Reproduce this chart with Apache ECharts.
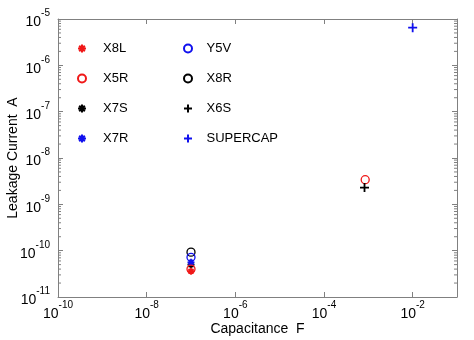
<!DOCTYPE html>
<html>
<head>
<meta charset="utf-8">
<script src="https://cdn.jsdelivr.net/npm/echarts@6/dist/echarts.min.js"></script>
<style>html,body{margin:0;padding:0;background:#fff}#c{width:474px;height:340px}</style>
</head>
<body>
<div id="c"></div>
<script>
// Capacitance (F) and leakage current (A) per dielectric type
var seriesNames = ['X8L', 'X5R', 'X7S', 'X7R', 'Y5V', 'X8R', 'X6S', 'SUPERCAP'];
var capX8L = [1e-7];         var curX8L = [3.6e-11];
var capX5R = [1e-7, 8.5e-4]; var curX5R = [4.0e-11, 3.4e-9];
var capX7S = [1e-7];         var curX7S = [5.0e-11];
var capX7R = [1e-7];         var curX7R = [5.6e-11];
var capY5V = [1e-7];         var curY5V = [7.2e-11];
var capX8R = [1e-7];         var curX8R = [9.3e-11];
var capX6S = [8.2e-4];       var curX6S = [2.3e-9];
var capSC  = [1e-2];         var curSC  = [6.5e-6];
var xTickExps = [-10, -8, -6, -4, -2];
var yTickExps = [-11, -10, -9, -8, -7, -6, -5];

var RED = '#f01818', BLUE = '#1010ee', BLACK = '#000000';
var FRAME = '#808080';
var FONT = 'Liberation Sans, Arial, sans-serif';

var ASTER = 'path://M5,0L5,10M0,5L10,5M1.5,1.5L8.5,8.5M1.5,8.5L8.5,1.5';
var PLUS = 'path://M5,0L5,10M0,5L10,5';

function pts(c, v) { return c.map(function (x, i) { return [Math.log10(x), Math.log10(v[i])]; }); }

function mk(name, c, v, sym, color, size) {
  var isCircle = sym === 'circle';
  return {
    name: name, type: 'scatter', data: pts(c, v),
    symbol: sym, symbolSize: size,
    itemStyle: { color: 'rgba(0,0,0,0)', borderColor: color, borderWidth: isCircle ? 1.3 : 1.8, opacity: 1 },
    emphasis: { disabled: true }, z: 3
  };
}

var supFmt = function (v) {
  var n = Math.round(v);
  return '{b|10}{s|' + n + '}';
};
var xFmt = function (v) {
  var n = Math.round(v);
  if (xTickExps.indexOf(n) < 0) return '';
  return '{b|10}{s|' + n + '}';
};
var rich = {
  b: { fontSize: 14, fontFamily: FONT, color: '#000', lineHeight: 21, verticalAlign: 'bottom' },
  s: { fontSize: 10, fontFamily: FONT, color: '#000', lineHeight: 21, verticalAlign: 'top' }
};

var minorTicks = {
  type: 'custom', silent: true, xAxisIndex: 0, yAxisIndex: 0, z: 1,
  data: [[0, 0]],
  renderItem: function (params, api) {
    var children = [];
    for (var n = yTickExps[0]; n < yTickExps[yTickExps.length - 1]; n++) {
      for (var k = 2; k <= 9; k++) {
        var e = n + Math.log10(k);
        var pl = api.coord([-10, e]);
        var pr = api.coord([-1, e]);
        children.push({ type: 'line', shape: { x1: pl[0], y1: pl[1], x2: pl[0] + 3, y2: pl[1] }, style: { stroke: FRAME, lineWidth: 1 } });
        children.push({ type: 'line', shape: { x1: pr[0], y1: pr[1], x2: pr[0] - 3, y2: pr[1] }, style: { stroke: FRAME, lineWidth: 1 } });
      }
    }
    return { type: 'group', children: children };
  }
};

var legendText = { fontSize: 13, fontFamily: FONT, color: '#000', lineHeight: 15 };

var option = {
  animation: false,
  backgroundColor: '#fff',
  grid: { left: 58, right: 17, top: 19, bottom: 43, outerBoundsMode: 'none', containLabel: false },
  legend: [
    { data: ['X8L', 'X5R', 'X7S', 'X7R'], orient: 'vertical', left: 72, top: 36, itemWidth: 32, itemHeight: 8, itemGap: 15, textStyle: legendText, selectedMode: false },
    { data: ['Y5V', 'X8R', 'X6S', 'SUPERCAP'], orient: 'vertical', left: 178, top: 36, itemWidth: 27, itemHeight: 8, itemGap: 15, textStyle: legendText, selectedMode: false }
  ],
  xAxis: [
    { type: 'value', min: -10, max: -1, interval: 2, position: 'bottom',
      name: 'Capacitance  F', nameLocation: 'middle', nameGap: 25, nameMoveOverlap: false,
      nameTextStyle: { fontSize: 14, fontFamily: FONT, color: '#000' },
      axisLine: { show: true, lineStyle: { color: FRAME, width: 1 } },
      axisTick: { show: true, inside: true, length: 5, lineStyle: { color: FRAME } },
      axisLabel: { formatter: xFmt, rich: rich, margin: 3, showMaxLabel: false },
      splitLine: { show: false } },
    { type: 'value', min: -10, max: -1, interval: 2, position: 'top',
      axisLine: { show: true, lineStyle: { color: FRAME, width: 1 } },
      axisTick: { show: true, inside: true, length: 5, lineStyle: { color: FRAME } },
      axisLabel: { show: false }, splitLine: { show: false } }
  ],
  yAxis: [
    { type: 'value', min: -11, max: -5, interval: 1, position: 'left',
      name: 'Leakage Current  A', nameLocation: 'middle', nameGap: 38, nameMoveOverlap: false,
      nameTextStyle: { fontSize: 14, fontFamily: FONT, color: '#000' },
      axisLine: { show: true, lineStyle: { color: FRAME, width: 1 } },
      axisTick: { show: true, inside: true, length: 5, lineStyle: { color: FRAME } },
      axisLabel: { formatter: supFmt, rich: rich, margin: 8 },
      splitLine: { show: false } },
    { type: 'value', min: -11, max: -5, interval: 1, position: 'right',
      axisLine: { show: true, lineStyle: { color: FRAME, width: 1 } },
      axisTick: { show: true, inside: true, length: 5, lineStyle: { color: FRAME } },
      axisLabel: { show: false }, splitLine: { show: false } }
  ],
  series: [
    minorTicks,
    mk('X8R', capX8R, curX8R, 'circle', BLACK, 8),
    mk('Y5V', capY5V, curY5V, 'circle', BLUE, 8),
    mk('X7S', capX7S, curX7S, ASTER, BLACK, 7),
    mk('X7R', capX7R, curX7R, ASTER, BLUE, 7),
    mk('X5R', capX5R, curX5R, 'circle', RED, 8),
    mk('X8L', capX8L, curX8L, ASTER, RED, 7),
    mk('X6S', capX6S, curX6S, PLUS, BLACK, 9),
    mk('SUPERCAP', capSC, curSC, PLUS, BLUE, 9)
  ]
};

var chart = echarts.init(document.getElementById('c'), null, { renderer: 'canvas' });
chart.setOption(option);
</script>
</body>
</html>
